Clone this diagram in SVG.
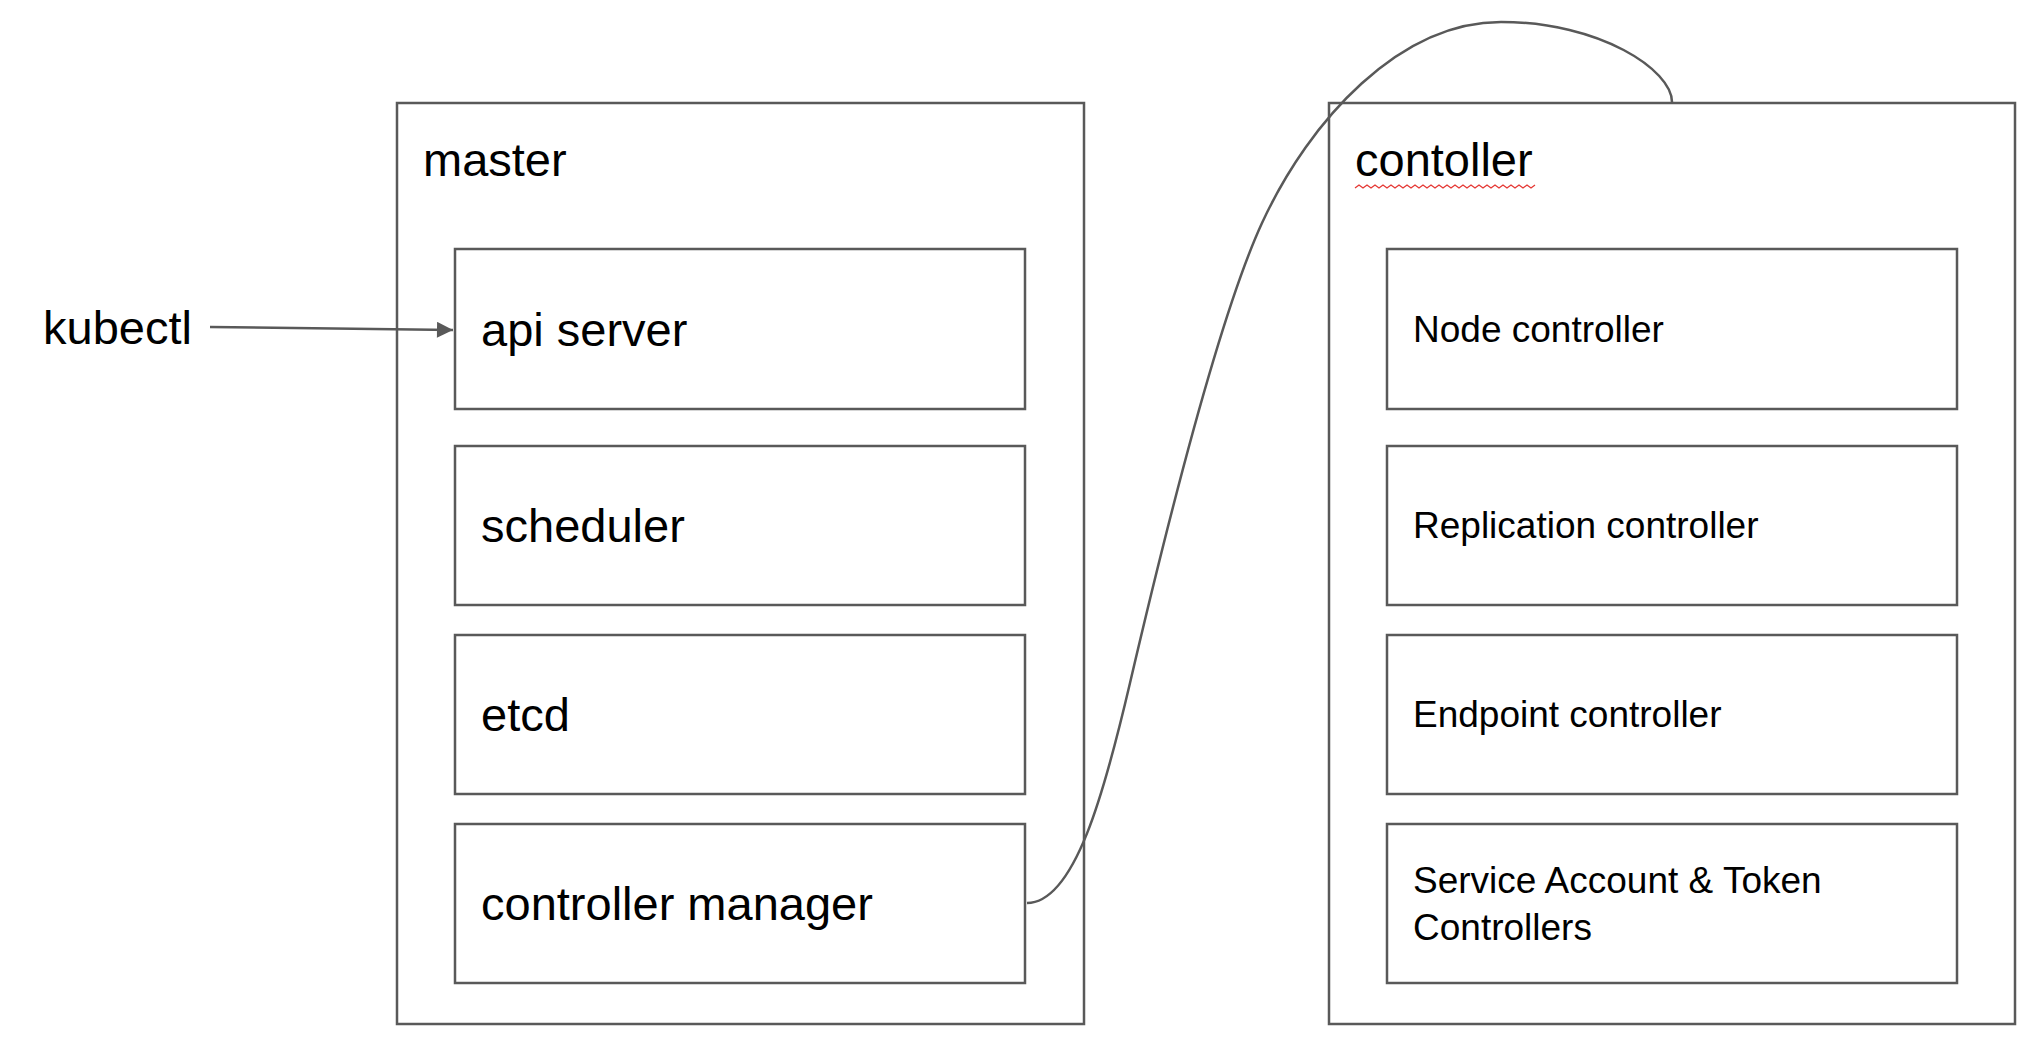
<svg xmlns="http://www.w3.org/2000/svg" width="2040" height="1052" viewBox="0 0 2040 1052">
<style>
.box{fill:#fff;stroke:#595959;stroke-width:2.5}
.big{font-family:"Liberation Sans",Arial,sans-serif;font-size:47px;fill:#000}
.sm{font-family:"Liberation Sans",Arial,sans-serif;font-size:37px;fill:#000}
.ln{fill:none;stroke:#595959;stroke-width:2.5}
</style>
<defs><marker id="ah" viewBox="0 0 10 10" refX="10" refY="5" markerWidth="22" markerHeight="16" markerUnits="userSpaceOnUse" orient="auto"><path d="M0,0L10,5L0,10z" fill="#595959"/></marker></defs>
<rect width="2040" height="1052" fill="#fff"/>
<g id="master"><rect class="box" x="397" y="103" width="687" height="921"/><text class="big" x="423" y="176">master</text></g>
<g id="api"><rect class="box" x="455" y="249" width="570" height="160"/><text class="big" x="481" y="346">api server</text></g>
<g id="scheduler"><rect class="box" x="455" y="446" width="570" height="159"/><text class="big" x="481" y="542">scheduler</text></g>
<g id="etcd"><rect class="box" x="455" y="635" width="570" height="159"/><text class="big" x="481" y="731">etcd</text></g>
<g id="cm"><rect class="box" x="455" y="824" width="570" height="159"/><text class="big" x="481" y="920">controller manager</text></g>
<g id="controller"><rect class="box" x="1329" y="103" width="686" height="921"/><text class="big" x="1355" y="176">contoller</text>
<path d="M1355,188 l4,-3 l4,3 l4,-3 l4,3 l4,-3 l4,3 l4,-3 l4,3 l4,-3 l4,3 l4,-3 l4,3 l4,-3 l4,3 l4,-3 l4,3 l4,-3 l4,3 l4,-3 l4,3 l4,-3 l4,3 l4,-3 l4,3 l4,-3 l4,3 l4,-3 l4,3 l4,-3 l4,3 l4,-3 l4,3 l4,-3 l4,3 l4,-3 l4,3 l4,-3 l4,3 l4,-3 l4,3 l4,-3 l4,3 l4,-3 l4,3 l4,-3" fill="none" stroke="#e53935" stroke-width="1.3"/></g>
<g id="node"><rect class="box" x="1387" y="249" width="570" height="160"/><text class="sm" x="1413" y="342">Node controller</text></g>
<g id="repl"><rect class="box" x="1387" y="446" width="570" height="159"/><text class="sm" x="1413" y="538">Replication controller</text></g>
<g id="endp"><rect class="box" x="1387" y="635" width="570" height="159"/><text class="sm" x="1413" y="727">Endpoint controller</text></g>
<g id="sa"><rect class="box" x="1387" y="824" width="570" height="159"/><text class="sm" x="1413" y="893">Service Account &amp; Token</text><text class="sm" x="1413" y="940">Controllers</text></g>
<g id="kubectl"><text class="big" x="43" y="344">kubectl</text></g>
<g id="connectors">
<line class="ln" x1="210" y1="327" x2="453" y2="330" marker-end="url(#ah)"/>
<path class="ln" d="M1027,903 C1075,903 1105,790 1130,683 C1155,576 1215,325 1262,223 C1310,119 1400,22 1501,22 C1600,22 1672,70 1672,102"/>
</g>
</svg>
